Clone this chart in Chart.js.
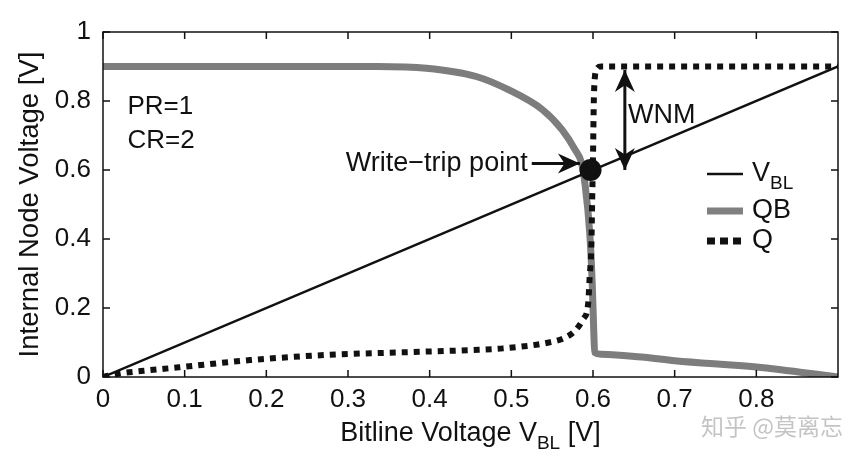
<!DOCTYPE html>
<html>
<head>
<meta charset="utf-8">
<script src="https://cdn.jsdelivr.net/npm/chart.js@4.4.1/dist/chart.umd.min.js"></script>
<style>
  html, body { margin: 0; padding: 0; background: #fff; }
  #wrap { width: 865px; height: 460px; }
</style>
</head>
<body>
<div id="wrap"><canvas id="chart"></canvas></div>
<script>
// ================= DATA =================
const X_TICKS = [0, 0.1, 0.2, 0.3, 0.4, 0.5, 0.6, 0.7, 0.8];
const Y_TICKS = [0, 0.2, 0.4, 0.6, 0.8, 1];

const VBL_X = [0, 0.9];
const VBL_Y = [0, 0.9];

const QB_X = [0, 0.2, 0.336, 0.396, 0.457, 0.497, 0.538, 0.562, 0.578, 0.586, 0.59, 0.596, 0.599, 0.601, 0.602, 0.61, 0.663, 0.7, 0.8, 0.9];
const QB_Y = [0.9, 0.9, 0.9, 0.895, 0.871, 0.832, 0.775, 0.717, 0.659, 0.62, 0.563, 0.418, 0.274, 0.129, 0.071, 0.066, 0.057, 0.047, 0.029, 0.0];

const Q_X = [0, 0.02, 0.05, 0.093, 0.18, 0.275, 0.388, 0.45, 0.49, 0.546, 0.564, 0.578, 0.588, 0.594, 0.596, 0.598, 0.599, 0.6, 0.601, 0.602, 0.604, 0.61, 0.9];
const Q_Y = [0, 0.01, 0.018, 0.028, 0.049, 0.064, 0.073, 0.078, 0.083, 0.1, 0.112, 0.134, 0.168, 0.211, 0.293, 0.38, 0.514, 0.64, 0.8, 0.86, 0.89, 0.9, 0.9];

const TRIP_X = [0.597];
const TRIP_Y = [0.6];

const LEGEND = [
  { parts: [["V", false], ["BL", true]], color: "#111", width: 2.5, dash: [] },
  { parts: [["QB", false]], color: "#808080", width: 7, dash: [] },
  { parts: [["Q", false]], color: "#111", width: 7, dash: [8, 5] },
];

const FONT = "'Liberation Sans', Arial, sans-serif";
const INK = "#111";

const pts = (xs, ys) => xs.map((x, i) => ({ x, y: ys[i] }));

// ================= HELPERS =================
function textSub(ctx, parts, x, y, size, align) {
  const subSize = Math.round(size * 0.72);
  let total = 0;
  parts.forEach(([t, sub]) => {
    ctx.font = `${sub ? subSize : size}px ${FONT}`;
    total += ctx.measureText(t).width;
  });
  let cx = align === "center" ? x - total / 2 : align === "right" ? x - total : x;
  ctx.textAlign = "left";
  ctx.textBaseline = "middle";
  parts.forEach(([t, sub]) => {
    ctx.font = `${sub ? subSize : size}px ${FONT}`;
    ctx.fillText(t, cx, sub ? y + size * 0.38 : y);
    cx += ctx.measureText(t).width;
  });
}

function arrowHead(ctx, tx, ty, ang, len, half) {
  const c = Math.cos(ang), s = Math.sin(ang);
  const bx = tx - c * len, by = ty - s * len;
  const nx = tx - c * len * 0.7, ny = ty - s * len * 0.7;
  ctx.beginPath();
  ctx.moveTo(tx, ty);
  ctx.lineTo(bx - s * half, by + c * half);
  ctx.lineTo(nx, ny);
  ctx.lineTo(bx + s * half, by - c * half);
  ctx.closePath();
  ctx.fill();
}

function arrow(ctx, x1, y1, x2, y2, both) {
  const ang = Math.atan2(y2 - y1, x2 - x1);
  ctx.beginPath();
  ctx.moveTo(x1, y1);
  ctx.lineTo(x2, y2);
  ctx.stroke();
  arrowHead(ctx, x2, y2, ang, 22, 10);
  if (both) arrowHead(ctx, x1, y1, ang + Math.PI, 22, 10);
}

// ================= DECOR PLUGIN =================
const decor = {
  id: "decor",
  afterDraw(chart) {
    const { ctx, chartArea: a, scales: { x, y } } = chart;
    ctx.save();
    ctx.strokeStyle = INK;
    ctx.fillStyle = INK;

    // box + inward ticks
    ctx.lineWidth = 1.5;
    ctx.strokeRect(a.left, a.top, a.right - a.left, a.bottom - a.top);
    ctx.beginPath();
    X_TICKS.forEach(v => {
      const px = x.getPixelForValue(v);
      ctx.moveTo(px, a.bottom); ctx.lineTo(px, a.bottom - 7);
      ctx.moveTo(px, a.top); ctx.lineTo(px, a.top + 7);
    });
    Y_TICKS.forEach(v => {
      const py = y.getPixelForValue(v);
      ctx.moveTo(a.left, py); ctx.lineTo(a.left + 7, py);
      ctx.moveTo(a.right, py); ctx.lineTo(a.right - 7, py);
    });
    ctx.stroke();

    // annotations
    textSub(ctx, [["PR=1", false]], x.getPixelForValue(0.03), y.getPixelForValue(0.783), 26, "left");
    textSub(ctx, [["CR=2", false]], x.getPixelForValue(0.03), y.getPixelForValue(0.684), 26, "left");
    textSub(ctx, [["Write\u2212trip point", false]], x.getPixelForValue(0.52), y.getPixelForValue(0.619), 27, "right");
    textSub(ctx, [["WNM", false]], x.getPixelForValue(0.643), y.getPixelForValue(0.757), 27, "left");

    ctx.lineWidth = 3;
    arrow(ctx, x.getPixelForValue(0.525), y.getPixelForValue(0.619),
               x.getPixelForValue(0.584), y.getPixelForValue(0.619), false);
    arrow(ctx, x.getPixelForValue(0.639), y.getPixelForValue(0.6),
               x.getPixelForValue(0.639), y.getPixelForValue(0.89), true);

    // legend
    const rows = [174, 211, 241];
    LEGEND.forEach((item, i) => {
      ctx.save();
      ctx.strokeStyle = item.color;
      ctx.lineWidth = item.width;
      ctx.setLineDash(item.dash);
      ctx.beginPath();
      ctx.moveTo(a.right - 131, rows[i]);
      ctx.lineTo(a.right - 95, rows[i]);
      ctx.stroke();
      ctx.restore();
      textSub(ctx, item.parts, a.right - 86, rows[i], 27, "left");
    });

    // axis titles
    textSub(ctx, [["Bitline Voltage V", false], ["BL", true], [" [V]", false]],
      (a.left + a.right) / 2, 434, 27, "center");
    ctx.save();
    ctx.translate(30, (a.top + a.bottom) / 2);
    ctx.rotate(-Math.PI / 2);
    textSub(ctx, [["Internal Node Voltage [V]", false]], 0, 0, 27.5, "center");
    ctx.restore();

    // watermark
    ctx.fillStyle = "#c4c4c4";
    ctx.font = `23px 'Noto Sans CJK SC', sans-serif`;
    ctx.textAlign = "right";
    ctx.textBaseline = "middle";
    ctx.fillText("知乎 @莫离忘", 843, 426);

    ctx.restore();
  }
};

// ================= CHART =================
new Chart(document.getElementById("chart"), {
  type: "scatter",
  data: {
    datasets: [
      {
        label: "Write-trip point",
        data: pts(TRIP_X, TRIP_Y),
        pointRadius: 11,
        pointBackgroundColor: INK,
        pointBorderWidth: 0,
        showLine: false,
      },
      {
        label: "Q",
        data: pts(Q_X, Q_Y),
        showLine: true,
        pointRadius: 0,
        borderColor: INK,
        borderWidth: 6,
        borderDash: [6, 6],
        borderCapStyle: "butt",
        cubicInterpolationMode: "monotone",
      },
      {
        label: "VBL",
        data: pts(VBL_X, VBL_Y),
        showLine: true,
        pointRadius: 0,
        borderColor: INK,
        borderWidth: 2.5,
      },
      {
        label: "QB",
        data: pts(QB_X, QB_Y),
        showLine: true,
        pointRadius: 0,
        borderColor: "#7d7d7d",
        borderWidth: 7,
        borderCapStyle: "round",
        borderJoinStyle: "round",
        cubicInterpolationMode: "monotone",
      },
    ],
  },
  options: {
    responsive: true,
    maintainAspectRatio: false,
    animation: false,
    layout: { padding: { left: 0, top: 32, right: 27, bottom: 0 } },
    plugins: { legend: { display: false }, tooltip: { enabled: false } },
    scales: {
      x: {
        type: "linear",
        min: 0,
        max: 0.9,
        afterBuildTicks: s => { s.ticks = X_TICKS.map(v => ({ value: v })); },
        afterFit: s => { s.height = 83; },
        grid: { display: false, drawTicks: false },
        border: { display: false },
        ticks: {
          padding: 7,
          color: INK,
          font: { family: FONT, size: 26 },
          maxRotation: 0,
          autoSkip: false,
          callback: v => String(v),
        },
      },
      y: {
        type: "linear",
        min: 0,
        max: 1,
        afterBuildTicks: s => { s.ticks = Y_TICKS.map(v => ({ value: v })); },
        afterFit: s => { s.width = 103; },
        grid: { display: false, drawTicks: false },
        border: { display: false },
        ticks: {
          padding: 12,
          color: INK,
          font: { family: FONT, size: 26 },
          autoSkip: false,
          callback: v => String(v),
        },
      },
    },
  },
  plugins: [decor],
});
</script>
</body>
</html>
